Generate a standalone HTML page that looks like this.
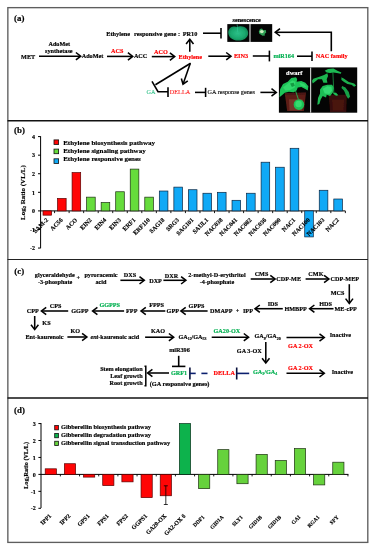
<!DOCTYPE html>
<html><head><meta charset="utf-8"><title>Figure</title>
<style>html,body{margin:0;padding:0;background:#fff;}svg{display:block;}text{font-family:'Liberation Serif', 'DejaVu Serif', serif;white-space:pre;}</style></head><body>
<svg width="374" height="550" viewBox="0 0 374 550">
<rect x="0" y="0" width="374" height="550" fill="#fff"/>
<rect x="7.85" y="7.65" width="359.95" height="534.75" fill="none" stroke="#5e5e5e" stroke-width="1.35"/>
<line x1="7.50" y1="120.75" x2="368.00" y2="120.75" stroke="#111" stroke-width="1.6" />
<line x1="7.50" y1="259.45" x2="368.00" y2="259.45" stroke="#222" stroke-width="1.1" />
<line x1="7.50" y1="398.00" x2="368.00" y2="398.00" stroke="#111" stroke-width="1.7" />
<text x="19.30" y="20.96" font-size="8.9" font-weight="bold" fill="#000" stroke="#000" stroke-width="0.16" text-anchor="middle" >(a)</text>
<text x="28.15" y="58.52" font-size="6.2" font-weight="bold" fill="#000" stroke="#000" stroke-width="0.16" text-anchor="middle" >MET</text>
<line x1="39.00" y1="56.20" x2="80.10" y2="56.20" stroke="#000" stroke-width="1.55" />
<polyline points="75.90,59.90 80.70,56.20 75.90,52.50" fill="none" stroke="#000" stroke-width="1.55" stroke-linejoin="miter"/>
<text x="59.25" y="46.42" font-size="6.2" font-weight="bold" fill="#000" stroke="#000" stroke-width="0.16" text-anchor="middle" >AdoMet</text>
<text x="58.80" y="53.12" font-size="6.2" font-weight="bold" fill="#000" stroke="#000" stroke-width="0.16" text-anchor="middle" >synthetase</text>
<text x="92.50" y="58.12" font-size="6.2" font-weight="bold" fill="#000" stroke="#000" stroke-width="0.16" text-anchor="middle" >AdoMet</text>
<line x1="107.00" y1="56.40" x2="132.10" y2="56.40" stroke="#000" stroke-width="1.55" />
<polyline points="127.90,60.10 132.70,56.40 127.90,52.70" fill="none" stroke="#000" stroke-width="1.55" stroke-linejoin="miter"/>
<text x="117.20" y="53.32" font-size="6.2" font-weight="bold" fill="#f00" stroke="#f00" stroke-width="0.16" text-anchor="middle" >ACS</text>
<text x="140.60" y="58.12" font-size="6.2" font-weight="bold" fill="#000" stroke="#000" stroke-width="0.16" text-anchor="middle" >ACC</text>
<line x1="151.80" y1="56.60" x2="174.10" y2="56.60" stroke="#000" stroke-width="1.55" />
<polyline points="169.90,60.30 174.70,56.60 169.90,52.90" fill="none" stroke="#000" stroke-width="1.55" stroke-linejoin="miter"/>
<text x="160.85" y="53.92" font-size="6.2" font-weight="bold" fill="#f00" stroke="#f00" stroke-width="0.16" text-anchor="middle" >ACO</text>
<text x="190.25" y="58.52" font-size="6.2" font-weight="bold" fill="#f00" stroke="#f00" stroke-width="0.16" text-anchor="middle" >Ethylene</text>
<text x="106.30" y="36.35" font-size="6.3" font-weight="bold" fill="#000" stroke="#000" stroke-width="0.16" text-anchor="start" >Ethylene</text>
<text x="134.00" y="36.37" font-size="6.35" font-weight="bold" fill="#000" stroke="#000" stroke-width="0.16" text-anchor="start" >responsive gene :</text>
<text x="190.05" y="36.45" font-size="6.3" font-weight="bold" fill="#000" stroke="#000" stroke-width="0.16" text-anchor="middle" >PR10</text>
<line x1="189.80" y1="51.70" x2="189.80" y2="39.80" stroke="#000" stroke-width="1.55" />
<polyline points="193.50,44.00 189.80,39.20 186.10,44.00" fill="none" stroke="#000" stroke-width="1.55" stroke-linejoin="miter"/>
<line x1="203.00" y1="33.20" x2="221.00" y2="33.20" stroke="#000" stroke-width="1.55" />
<line x1="221.00" y1="38.40" x2="221.00" y2="28.00" stroke="#000" stroke-width="1.55" />
<text x="246.60" y="22.12" font-size="6.2" font-weight="bold" fill="#000" stroke="#000" stroke-width="0.16" text-anchor="middle" >senescence</text>
<line x1="208.30" y1="56.20" x2="230.40" y2="56.20" stroke="#000" stroke-width="1.55" />
<polyline points="226.20,59.90 231.00,56.20 226.20,52.50" fill="none" stroke="#000" stroke-width="1.55" stroke-linejoin="miter"/>
<text x="241.00" y="58.32" font-size="6.2" font-weight="bold" fill="#f00" stroke="#f00" stroke-width="0.16" text-anchor="middle" >EIN3</text>
<line x1="252.80" y1="56.00" x2="269.40" y2="56.00" stroke="#000" stroke-width="1.55" />
<line x1="269.40" y1="61.40" x2="269.40" y2="50.60" stroke="#000" stroke-width="1.55" />
<text x="283.75" y="58.22" font-size="6.2" font-weight="bold" fill="#00b050" stroke="#00b050" stroke-width="0.16" text-anchor="middle" >miR164</text>
<line x1="297.00" y1="56.20" x2="312.00" y2="56.20" stroke="#000" stroke-width="1.55" />
<line x1="312.00" y1="61.00" x2="312.00" y2="51.40" stroke="#000" stroke-width="1.55" />
<text x="331.75" y="58.42" font-size="6.2" font-weight="bold" fill="#f00" stroke="#f00" stroke-width="0.16" text-anchor="middle" >NAC family</text>
<polyline points="331.3,51.2 331.3,32.3 300,32.3" fill="none" stroke="#000" stroke-width="1.6"/>
<line x1="300.00" y1="32.30" x2="275.80" y2="32.30" stroke="#000" stroke-width="1.55" />
<polyline points="280.00,28.60 275.20,32.30 280.00,36.00" fill="none" stroke="#000" stroke-width="1.55" stroke-linejoin="miter"/>
<line x1="190.60" y1="63.20" x2="155.40" y2="84.70" stroke="#000" stroke-width="1.6" />
<polyline points="152,81.4 158,91.7 168,91.7" fill="none" stroke="#000" stroke-width="1.6"/>
<line x1="168.00" y1="87.20" x2="168.00" y2="97.00" stroke="#000" stroke-width="1.6" />
<line x1="190.30" y1="63.20" x2="183.20" y2="83.63" stroke="#000" stroke-width="1.55" />
<polyline points="181.36,78.55 183.00,84.20 187.79,80.78" fill="none" stroke="#000" stroke-width="1.55" stroke-linejoin="miter"/>
<text x="151.05" y="94.32" font-size="6.2" font-weight="normal" fill="#33c28a" stroke="#33c28a" stroke-width="0.12" text-anchor="middle" >GA</text>
<text x="180.00" y="94.32" font-size="6.2" font-weight="normal" fill="#f22" stroke="#f22" stroke-width="0.12" text-anchor="middle" >DELLA</text>
<line x1="195.00" y1="92.40" x2="205.60" y2="92.40" stroke="#000" stroke-width="1.55" />
<line x1="205.60" y1="97.00" x2="205.60" y2="87.80" stroke="#000" stroke-width="1.55" />
<text x="231.25" y="94.32" font-size="6.2" font-weight="normal" fill="#000" stroke="#000" stroke-width="0.12" text-anchor="middle" >GA response genes</text>
<line x1="260.40" y1="92.40" x2="275.70" y2="92.40" stroke="#000" stroke-width="1.55" />
<polyline points="271.50,96.10 276.30,92.40 271.50,88.70" fill="none" stroke="#000" stroke-width="1.55" stroke-linejoin="miter"/>
<defs><filter id="bl" x="-20%" y="-20%" width="140%" height="140%"><feGaussianBlur stdDeviation="0.45"/></filter><filter id="bl2" x="-20%" y="-20%" width="140%" height="140%"><feGaussianBlur stdDeviation="0.7"/></filter></defs>
<rect x="227.3" y="24.1" width="44.9" height="17.8" fill="#050505"/>
<line x1="250.00" y1="24.10" x2="250.00" y2="41.90" stroke="#c0c0c0" stroke-width="1.3" />
<g filter="url(#bl)">
<defs><radialGradient id="lg1" cx="0.48" cy="0.5" r="0.6"><stop offset="0" stop-color="#2cc088"/><stop offset="0.6" stop-color="#1aa86e"/><stop offset="1" stop-color="#0c7a4c"/></radialGradient></defs>
<path d="M237.2,27.2 C239,25.6 244,25.6 246.5,28.5 C249,31.5 248.6,35.5 246,38 C243.5,40.4 239,41 236,40.4 C232,39.8 228.6,37 228.3,33 C228,29.5 230.5,26.8 233.5,26.6 C235,26.5 236.3,26.6 237.2,27.2 Z" fill="url(#lg1)"/>
<path d="M236.7,24.6 L237.5,24.6 L238.1,32 L237.4,32 Z" fill="#35c898" opacity="0.8"/>
<path d="M258.8,31.5 L260,29 L262,28.4 L263.2,30.2 L265.8,30 L266.2,32.5 L264.6,34 L265,35.6 L262.5,35.8 L260.6,34.6 L259.2,33.6 Z" fill="#2f9f55"/>
<ellipse cx="261.8" cy="31.6" rx="1.9" ry="1.6" fill="#cdeec0"/>
</g>
<rect x="278.9" y="67.4" width="78.3" height="45.3" fill="#040404"/>
<line x1="310.60" y1="67.40" x2="310.60" y2="112.70" stroke="#c4c4c4" stroke-width="1.2" />
<text x="294.25" y="75.38" font-size="6.4" font-weight="bold" fill="#fff" stroke="#fff" stroke-width="0.16" text-anchor="middle" >dwarf</text>
<g filter="url(#bl)">
<polygon points="284.82,93.41 306.00,92.82 303.88,111.06 287.18,111.06" fill="#5c1f17" />
<polygon points="288.94,99.29 302.47,99.29 302.12,110.47 289.53,110.47" fill="#74352a" />
<polygon points="284.82,93.06 306.00,92.59 305.76,94.82 285.18,95.29" fill="#4a1812" />
<polygon points="279.53,97.29 280.12,89.29 283.06,84.00 287.76,81.65 291.29,78.12 296.00,77.18 297.18,79.29 296.59,81.65 301.29,81.06 305.41,82.82 308.35,86.35 307.76,90.47 304.82,88.71 301.29,86.94 297.76,87.53 296.59,90.47 293.65,92.24 288.94,91.65 284.82,92.82 282.47,94.82" fill="#1fc458" />
<polygon points="283.06,87.53 287.76,83.41 292.47,80.47 295.41,81.65 294.82,87.53 290.12,89.88 285.41,90.47" fill="#30d86c" />
<polygon points="290.12,83.41 293.65,82.82 294.82,85.76 291.88,86.94" fill="#129a42" />
<polygon points="299.53,82.82 304.24,84.00 306.82,87.53 304.24,86.94 300.71,85.76" fill="#30d86c" />
<circle cx="298.94" cy="104.59" r="5.3" fill="#1fc257"/>
<circle cx="298.59" cy="104.00" r="3.2" fill="#36dc70"/>
<line x1="295.41" y1="90.47" x2="298.35" y2="99.29" stroke="#25b050" stroke-width="0.9" />
<polygon points="328.72,94.74 346.76,94.74 346.36,112.12 330.05,112.12" fill="#350d0a" />
<polygon points="332.06,99.42 344.09,99.42 343.69,110.79 332.73,110.79" fill="#48130f" />
<polygon points="324.71,70.68 328.05,68.94 333.40,68.41 337.41,70.68 341.42,72.42 340.75,73.75 336.74,72.95 333.40,72.42 330.05,72.95 326.71,72.42" fill="#1db953" />
<polygon points="312.01,80.71 313.34,78.70 319.36,76.70 324.04,75.09 327.38,73.35 328.05,76.03 326.71,79.37 327.38,82.71 323.37,82.71 322.03,79.37 318.02,79.37 314.68,82.04 312.67,83.38" fill="#1db550" />
<polygon points="320.03,89.40 322.70,86.05 327.38,84.72 332.06,84.72 334.06,88.06 332.73,92.74 330.05,96.08 326.71,94.74 326.04,97.42 322.70,96.08 320.70,99.42 319.36,104.10 317.35,104.77 318.02,98.09 320.03,93.41" fill="#1fbc54" />
<polygon points="322.70,88.73 327.38,86.32 331.39,86.72 332.06,90.73 329.39,94.07 324.71,93.41" fill="#34d872" />
<polygon points="341.42,77.36 344.09,78.70 348.77,82.04 354.12,83.38 356.12,85.39 354.12,86.72 351.44,84.72 347.43,84.05 344.09,82.04 341.42,80.04" fill="#1cb04e" />
<polygon points="342.09,86.05 345.43,87.39 348.77,92.07 350.11,96.75 348.10,98.75 346.10,95.41 344.09,90.73 341.42,88.06" fill="#18a046" />
<polygon points="332.73,92.47 336.07,92.74 338.34,95.14 336.07,95.68 333.80,94.34" fill="#1fbf55" />
<line x1="332.86" y1="72.02" x2="333.80" y2="92.74" stroke="#1a9c46" stroke-width="0.8" />
</g>
<text x="19.50" y="133.46" font-size="8.9" font-weight="bold" fill="#000" stroke="#000" stroke-width="0.16" text-anchor="middle" >(b)</text>
<line x1="40.60" y1="136.20" x2="40.60" y2="248.20" stroke="#000" stroke-width="1.0" />
<line x1="38.00" y1="136.58" x2="40.60" y2="136.58" stroke="#000" stroke-width="1.0" />
<text x="35.00" y="138.84" font-size="6.0" font-weight="bold" fill="#000" stroke="#000" stroke-width="0.16" text-anchor="end" >4</text>
<line x1="38.00" y1="155.16" x2="40.60" y2="155.16" stroke="#000" stroke-width="1.0" />
<text x="35.00" y="157.42" font-size="6.0" font-weight="bold" fill="#000" stroke="#000" stroke-width="0.16" text-anchor="end" >3</text>
<line x1="38.00" y1="173.74" x2="40.60" y2="173.74" stroke="#000" stroke-width="1.0" />
<text x="35.00" y="176.00" font-size="6.0" font-weight="bold" fill="#000" stroke="#000" stroke-width="0.16" text-anchor="end" >2</text>
<line x1="38.00" y1="192.32" x2="40.60" y2="192.32" stroke="#000" stroke-width="1.0" />
<text x="35.00" y="194.58" font-size="6.0" font-weight="bold" fill="#000" stroke="#000" stroke-width="0.16" text-anchor="end" >1</text>
<line x1="38.00" y1="210.90" x2="40.60" y2="210.90" stroke="#000" stroke-width="1.0" />
<text x="35.00" y="213.16" font-size="6.0" font-weight="bold" fill="#000" stroke="#000" stroke-width="0.16" text-anchor="end" >0</text>
<line x1="38.00" y1="229.48" x2="40.60" y2="229.48" stroke="#000" stroke-width="1.0" />
<text x="35.00" y="231.74" font-size="6.0" font-weight="bold" fill="#000" stroke="#000" stroke-width="0.16" text-anchor="end" >-1</text>
<line x1="38.00" y1="248.06" x2="40.60" y2="248.06" stroke="#000" stroke-width="1.0" />
<text x="35.00" y="250.32" font-size="6.0" font-weight="bold" fill="#000" stroke="#000" stroke-width="0.16" text-anchor="end" >-2</text>
<line x1="40.60" y1="210.90" x2="345.30" y2="210.90" stroke="#000" stroke-width="1.0" />
<rect x="43.00" y="210.90" width="8.6" height="4.27" fill="#ff0505" stroke="#5a0000" stroke-width="0.7"/>
<line x1="54.57" y1="210.90" x2="54.57" y2="213.10" stroke="#000" stroke-width="0.9" />
<text transform="translate(48.60,220.40) rotate(-45)" x="0" y="0" font-size="6.1" font-weight="bold" stroke="#000" stroke-width="0.16" text-anchor="end">SAM-2</text>
<rect x="57.54" y="198.45" width="8.6" height="12.45" fill="#ff0505" stroke="#5a0000" stroke-width="0.7"/>
<line x1="69.11" y1="210.90" x2="69.11" y2="213.10" stroke="#000" stroke-width="0.9" />
<text transform="translate(63.14,220.40) rotate(-45)" x="0" y="0" font-size="6.1" font-weight="bold" stroke="#000" stroke-width="0.16" text-anchor="end">AC56</text>
<rect x="72.08" y="172.63" width="8.6" height="38.27" fill="#ff0505" stroke="#5a0000" stroke-width="0.7"/>
<line x1="83.65" y1="210.90" x2="83.65" y2="213.10" stroke="#000" stroke-width="0.9" />
<text transform="translate(77.68,220.40) rotate(-45)" x="0" y="0" font-size="6.1" font-weight="bold" stroke="#000" stroke-width="0.16" text-anchor="end">ACO</text>
<rect x="86.62" y="197.15" width="8.6" height="13.75" fill="#66dc3c" stroke="#1c3010" stroke-width="0.7"/>
<line x1="98.19" y1="210.90" x2="98.19" y2="213.10" stroke="#000" stroke-width="0.9" />
<text transform="translate(92.22,220.40) rotate(-45)" x="0" y="0" font-size="6.1" font-weight="bold" stroke="#000" stroke-width="0.16" text-anchor="end">EIN2</text>
<rect x="101.16" y="202.54" width="8.6" height="8.36" fill="#66dc3c" stroke="#1c3010" stroke-width="0.7"/>
<line x1="112.73" y1="210.90" x2="112.73" y2="213.10" stroke="#000" stroke-width="0.9" />
<text transform="translate(106.76,220.40) rotate(-45)" x="0" y="0" font-size="6.1" font-weight="bold" stroke="#000" stroke-width="0.16" text-anchor="end">EIN4</text>
<rect x="115.70" y="191.76" width="8.6" height="19.14" fill="#66dc3c" stroke="#1c3010" stroke-width="0.7"/>
<line x1="127.27" y1="210.90" x2="127.27" y2="213.10" stroke="#000" stroke-width="0.9" />
<text transform="translate(121.30,220.40) rotate(-45)" x="0" y="0" font-size="6.1" font-weight="bold" stroke="#000" stroke-width="0.16" text-anchor="end">EIN3</text>
<rect x="130.24" y="169.10" width="8.6" height="41.80" fill="#66dc3c" stroke="#1c3010" stroke-width="0.7"/>
<line x1="141.81" y1="210.90" x2="141.81" y2="213.10" stroke="#000" stroke-width="0.9" />
<text transform="translate(135.84,220.40) rotate(-45)" x="0" y="0" font-size="6.1" font-weight="bold" stroke="#000" stroke-width="0.16" text-anchor="end">ERF1</text>
<rect x="144.78" y="197.15" width="8.6" height="13.75" fill="#66dc3c" stroke="#1c3010" stroke-width="0.7"/>
<line x1="156.35" y1="210.90" x2="156.35" y2="213.10" stroke="#000" stroke-width="0.9" />
<text transform="translate(150.38,220.40) rotate(-45)" x="0" y="0" font-size="6.1" font-weight="bold" stroke="#000" stroke-width="0.16" text-anchor="end">ERF110</text>
<rect x="159.32" y="191.02" width="8.6" height="19.88" fill="#10a9f6" stroke="#0a2440" stroke-width="0.7"/>
<line x1="170.89" y1="210.90" x2="170.89" y2="213.10" stroke="#000" stroke-width="0.9" />
<text transform="translate(164.92,220.40) rotate(-45)" x="0" y="0" font-size="6.1" font-weight="bold" stroke="#000" stroke-width="0.16" text-anchor="end">SAG18</text>
<rect x="173.86" y="187.12" width="8.6" height="23.78" fill="#10a9f6" stroke="#0a2440" stroke-width="0.7"/>
<line x1="185.43" y1="210.90" x2="185.43" y2="213.10" stroke="#000" stroke-width="0.9" />
<text transform="translate(179.46,220.40) rotate(-45)" x="0" y="0" font-size="6.1" font-weight="bold" stroke="#000" stroke-width="0.16" text-anchor="end">SRG3</text>
<rect x="188.40" y="189.72" width="8.6" height="21.18" fill="#10a9f6" stroke="#0a2440" stroke-width="0.7"/>
<line x1="199.97" y1="210.90" x2="199.97" y2="213.10" stroke="#000" stroke-width="0.9" />
<text transform="translate(194.00,220.40) rotate(-45)" x="0" y="0" font-size="6.1" font-weight="bold" stroke="#000" stroke-width="0.16" text-anchor="end">SAG101</text>
<rect x="202.94" y="193.25" width="8.6" height="17.65" fill="#10a9f6" stroke="#0a2440" stroke-width="0.7"/>
<line x1="214.51" y1="210.90" x2="214.51" y2="213.10" stroke="#000" stroke-width="0.9" />
<text transform="translate(208.54,220.40) rotate(-45)" x="0" y="0" font-size="6.1" font-weight="bold" stroke="#000" stroke-width="0.16" text-anchor="end">SAUL1</text>
<rect x="217.48" y="192.32" width="8.6" height="18.58" fill="#10a9f6" stroke="#0a2440" stroke-width="0.7"/>
<line x1="229.05" y1="210.90" x2="229.05" y2="213.10" stroke="#000" stroke-width="0.9" />
<text transform="translate(223.08,220.40) rotate(-45)" x="0" y="0" font-size="6.1" font-weight="bold" stroke="#000" stroke-width="0.16" text-anchor="end">NAC038</text>
<rect x="232.02" y="200.31" width="8.6" height="10.59" fill="#10a9f6" stroke="#0a2440" stroke-width="0.7"/>
<line x1="243.59" y1="210.90" x2="243.59" y2="213.10" stroke="#000" stroke-width="0.9" />
<text transform="translate(237.62,220.40) rotate(-45)" x="0" y="0" font-size="6.1" font-weight="bold" stroke="#000" stroke-width="0.16" text-anchor="end">NAC041</text>
<rect x="246.56" y="193.25" width="8.6" height="17.65" fill="#10a9f6" stroke="#0a2440" stroke-width="0.7"/>
<line x1="258.13" y1="210.90" x2="258.13" y2="213.10" stroke="#000" stroke-width="0.9" />
<text transform="translate(252.16,220.40) rotate(-45)" x="0" y="0" font-size="6.1" font-weight="bold" stroke="#000" stroke-width="0.16" text-anchor="end">NAC082</text>
<rect x="261.10" y="162.22" width="8.6" height="48.68" fill="#10a9f6" stroke="#0a2440" stroke-width="0.7"/>
<line x1="272.67" y1="210.90" x2="272.67" y2="213.10" stroke="#000" stroke-width="0.9" />
<text transform="translate(266.70,220.40) rotate(-45)" x="0" y="0" font-size="6.1" font-weight="bold" stroke="#000" stroke-width="0.16" text-anchor="end">NAC036</text>
<rect x="275.64" y="167.24" width="8.6" height="43.66" fill="#10a9f6" stroke="#0a2440" stroke-width="0.7"/>
<line x1="287.21" y1="210.90" x2="287.21" y2="213.10" stroke="#000" stroke-width="0.9" />
<text transform="translate(281.24,220.40) rotate(-45)" x="0" y="0" font-size="6.1" font-weight="bold" stroke="#000" stroke-width="0.16" text-anchor="end">NAC090</text>
<rect x="290.18" y="148.29" width="8.6" height="62.61" fill="#10a9f6" stroke="#0a2440" stroke-width="0.7"/>
<line x1="301.75" y1="210.90" x2="301.75" y2="213.10" stroke="#000" stroke-width="0.9" />
<text transform="translate(295.78,220.40) rotate(-45)" x="0" y="0" font-size="6.1" font-weight="bold" stroke="#000" stroke-width="0.16" text-anchor="end">NAC1</text>
<rect x="304.72" y="210.90" width="8.6" height="26.01" fill="#10a9f6" stroke="#0a2440" stroke-width="0.7"/>
<line x1="316.29" y1="210.90" x2="316.29" y2="213.10" stroke="#000" stroke-width="0.9" />
<text transform="translate(310.32,220.40) rotate(-45)" x="0" y="0" font-size="6.1" font-weight="bold" stroke="#000" stroke-width="0.16" text-anchor="end">NAC100</text>
<rect x="319.26" y="190.28" width="8.6" height="20.62" fill="#10a9f6" stroke="#0a2440" stroke-width="0.7"/>
<line x1="330.83" y1="210.90" x2="330.83" y2="213.10" stroke="#000" stroke-width="0.9" />
<text transform="translate(324.86,220.40) rotate(-45)" x="0" y="0" font-size="6.1" font-weight="bold" stroke="#000" stroke-width="0.16" text-anchor="end">NAC103</text>
<rect x="333.80" y="199.01" width="8.6" height="11.89" fill="#10a9f6" stroke="#0a2440" stroke-width="0.7"/>
<line x1="345.37" y1="210.90" x2="345.37" y2="213.10" stroke="#000" stroke-width="0.9" />
<text transform="translate(339.40,220.40) rotate(-45)" x="0" y="0" font-size="6.1" font-weight="bold" stroke="#000" stroke-width="0.16" text-anchor="end">NAC2</text>
<rect x="54.0" y="139.90" width="4.6" height="4.6" fill="#ff0505" stroke="#111" stroke-width="0.8"/>
<text x="63.20" y="144.87" font-size="7.0" font-weight="bold" fill="#000" stroke="#000" stroke-width="0.16" text-anchor="start" >Ethylene biosynthesis pathway</text>
<rect x="54.0" y="149.10" width="4.6" height="4.6" fill="#66dc3c" stroke="#111" stroke-width="0.8"/>
<text x="63.20" y="153.27" font-size="7.0" font-weight="bold" fill="#000" stroke="#000" stroke-width="0.16" text-anchor="start" >Ethylene signaling pathway</text>
<rect x="54.0" y="158.80" width="4.6" height="4.6" fill="#10a9f6" stroke="#111" stroke-width="0.8"/>
<text x="63.20" y="161.47" font-size="7.0" font-weight="bold" fill="#000" stroke="#000" stroke-width="0.16" text-anchor="start" >Ethylene responsive genes</text>
<text transform="translate(25.1,192.6) rotate(-90)" font-size="7" font-weight="bold" stroke="#000" stroke-width="0.16" text-anchor="middle">Log<tspan font-size="4.6" dy="1.2">2</tspan><tspan dy="-1.2"> Ratio (VL/L)</tspan></text>
<text x="19.20" y="273.56" font-size="8.9" font-weight="bold" fill="#000" stroke="#000" stroke-width="0.16" text-anchor="middle" >(c)</text>
<text x="54.75" y="277.32" font-size="6.2" font-weight="bold" fill="#000" stroke="#000" stroke-width="0.16" text-anchor="middle" >glyceraldehyde</text>
<text x="55.10" y="283.52" font-size="6.2" font-weight="bold" fill="#000" stroke="#000" stroke-width="0.16" text-anchor="middle" >-3-phosphate</text>
<text x="78.20" y="280.12" font-size="6.2" font-weight="bold" fill="#000" stroke="#000" stroke-width="0.16" text-anchor="middle" >+</text>
<text x="101.00" y="277.22" font-size="6.2" font-weight="bold" fill="#000" stroke="#000" stroke-width="0.16" text-anchor="middle" >pyroracemic</text>
<text x="100.95" y="283.62" font-size="6.2" font-weight="bold" fill="#000" stroke="#000" stroke-width="0.16" text-anchor="middle" >acid</text>
<text x="129.90" y="277.22" font-size="6.2" font-weight="bold" fill="#000" stroke="#000" stroke-width="0.16" text-anchor="middle" >DXS</text>
<line x1="120.40" y1="280.30" x2="143.70" y2="280.30" stroke="#000" stroke-width="1.55" />
<polyline points="139.50,284.00 144.30,280.30 139.50,276.60" fill="none" stroke="#000" stroke-width="1.55" stroke-linejoin="miter"/>
<text x="155.55" y="282.62" font-size="6.2" font-weight="bold" fill="#000" stroke="#000" stroke-width="0.16" text-anchor="middle" >DXP</text>
<text x="171.45" y="277.52" font-size="6.2" font-weight="bold" fill="#000" stroke="#000" stroke-width="0.16" text-anchor="middle" >DXR</text>
<line x1="163.40" y1="280.30" x2="185.30" y2="280.30" stroke="#000" stroke-width="1.55" />
<polyline points="181.10,284.00 185.90,280.30 181.10,276.60" fill="none" stroke="#000" stroke-width="1.55" stroke-linejoin="miter"/>
<text x="216.95" y="276.82" font-size="6.2" font-weight="bold" fill="#000" stroke="#000" stroke-width="0.16" text-anchor="middle" >2-methyl-D-erythritol</text>
<text x="217.00" y="283.82" font-size="6.2" font-weight="bold" fill="#000" stroke="#000" stroke-width="0.16" text-anchor="middle" >-4-phosphate</text>
<text x="261.50" y="275.82" font-size="6.2" font-weight="bold" fill="#000" stroke="#000" stroke-width="0.16" text-anchor="middle" >CMS</text>
<line x1="250.70" y1="279.00" x2="274.50" y2="279.00" stroke="#000" stroke-width="1.55" />
<polyline points="270.30,282.70 275.10,279.00 270.30,275.30" fill="none" stroke="#000" stroke-width="1.55" stroke-linejoin="miter"/>
<text x="288.70" y="281.12" font-size="6.2" font-weight="bold" fill="#000" stroke="#000" stroke-width="0.16" text-anchor="middle" >CDP-ME</text>
<text x="315.90" y="276.42" font-size="6.2" font-weight="bold" fill="#000" stroke="#000" stroke-width="0.16" text-anchor="middle" >CMK</text>
<line x1="305.60" y1="279.00" x2="328.30" y2="279.00" stroke="#000" stroke-width="1.55" />
<polyline points="324.10,282.70 328.90,279.00 324.10,275.30" fill="none" stroke="#000" stroke-width="1.55" stroke-linejoin="miter"/>
<text x="344.80" y="281.12" font-size="6.2" font-weight="bold" fill="#000" stroke="#000" stroke-width="0.16" text-anchor="middle" >CDP-MEP</text>
<text x="337.65" y="295.42" font-size="6.2" font-weight="bold" fill="#000" stroke="#000" stroke-width="0.16" text-anchor="middle" >MCS</text>
<line x1="349.30" y1="284.20" x2="349.30" y2="302.80" stroke="#000" stroke-width="1.55" />
<polyline points="345.60,298.60 349.30,303.40 353.00,298.60" fill="none" stroke="#000" stroke-width="1.55" stroke-linejoin="miter"/>
<text x="345.70" y="311.22" font-size="6.2" font-weight="bold" fill="#000" stroke="#000" stroke-width="0.16" text-anchor="middle" >ME-cPP</text>
<text x="325.60" y="306.22" font-size="6.2" font-weight="bold" fill="#000" stroke="#000" stroke-width="0.16" text-anchor="middle" >HDS</text>
<line x1="333.50" y1="308.70" x2="310.20" y2="308.70" stroke="#000" stroke-width="1.55" />
<polyline points="314.40,305.00 309.60,308.70 314.40,312.40" fill="none" stroke="#000" stroke-width="1.55" stroke-linejoin="miter"/>
<text x="295.55" y="311.22" font-size="6.2" font-weight="bold" fill="#000" stroke="#000" stroke-width="0.16" text-anchor="middle" >HMBPP</text>
<text x="272.80" y="305.82" font-size="6.2" font-weight="bold" fill="#000" stroke="#000" stroke-width="0.16" text-anchor="middle" >IDS</text>
<line x1="282.80" y1="308.70" x2="255.60" y2="308.70" stroke="#000" stroke-width="1.55" />
<polyline points="259.80,305.00 255.00,308.70 259.80,312.40" fill="none" stroke="#000" stroke-width="1.55" stroke-linejoin="miter"/>
<text x="247.95" y="312.92" font-size="6.2" font-weight="bold" fill="#000" stroke="#000" stroke-width="0.16" text-anchor="middle" >IPP</text>
<text x="237.60" y="312.92" font-size="6.2" font-weight="bold" fill="#000" stroke="#000" stroke-width="0.16" text-anchor="middle" >+</text>
<text x="221.25" y="313.12" font-size="6.2" font-weight="bold" fill="#000" stroke="#000" stroke-width="0.16" text-anchor="middle" >DMAPP</text>
<text x="196.50" y="307.52" font-size="6.2" font-weight="bold" fill="#000" stroke="#000" stroke-width="0.16" text-anchor="middle" >GPPS</text>
<line x1="207.60" y1="311.00" x2="181.50" y2="311.00" stroke="#000" stroke-width="1.55" />
<polyline points="185.70,307.30 180.90,311.00 185.70,314.70" fill="none" stroke="#000" stroke-width="1.55" stroke-linejoin="miter"/>
<text x="172.75" y="313.12" font-size="6.2" font-weight="bold" fill="#000" stroke="#000" stroke-width="0.16" text-anchor="middle" >GPP</text>
<text x="156.60" y="307.22" font-size="6.2" font-weight="bold" fill="#000" stroke="#000" stroke-width="0.16" text-anchor="middle" >FPPS</text>
<line x1="165.30" y1="311.00" x2="141.60" y2="311.00" stroke="#000" stroke-width="1.55" />
<polyline points="145.80,307.30 141.00,311.00 145.80,314.70" fill="none" stroke="#000" stroke-width="1.55" stroke-linejoin="miter"/>
<text x="131.75" y="313.22" font-size="6.2" font-weight="bold" fill="#000" stroke="#000" stroke-width="0.16" text-anchor="middle" >FPP</text>
<text x="109.70" y="307.22" font-size="6.2" font-weight="bold" fill="#00b050" stroke="#00b050" stroke-width="0.16" text-anchor="middle" >GGPPS</text>
<line x1="124.10" y1="311.00" x2="93.20" y2="311.00" stroke="#000" stroke-width="1.55" />
<polyline points="97.40,307.30 92.60,311.00 97.40,314.70" fill="none" stroke="#000" stroke-width="1.55" stroke-linejoin="miter"/>
<text x="79.90" y="313.32" font-size="6.2" font-weight="bold" fill="#000" stroke="#000" stroke-width="0.16" text-anchor="middle" >GGPP</text>
<text x="55.60" y="307.52" font-size="6.2" font-weight="bold" fill="#000" stroke="#000" stroke-width="0.16" text-anchor="middle" >CPS</text>
<line x1="68.20" y1="311.00" x2="42.00" y2="311.00" stroke="#000" stroke-width="1.55" />
<polyline points="46.20,307.30 41.40,311.00 46.20,314.70" fill="none" stroke="#000" stroke-width="1.55" stroke-linejoin="miter"/>
<text x="32.70" y="313.32" font-size="6.2" font-weight="bold" fill="#000" stroke="#000" stroke-width="0.16" text-anchor="middle" >CPP</text>
<line x1="34.70" y1="316.00" x2="34.70" y2="329.00" stroke="#000" stroke-width="1.55" />
<polyline points="31.00,324.80 34.70,329.60 38.40,324.80" fill="none" stroke="#000" stroke-width="1.55" stroke-linejoin="miter"/>
<text x="46.50" y="325.12" font-size="6.2" font-weight="bold" fill="#000" stroke="#000" stroke-width="0.16" text-anchor="middle" >KS</text>
<text x="44.50" y="338.52" font-size="6.2" font-weight="bold" fill="#000" stroke="#000" stroke-width="0.16" text-anchor="middle" >Ent-kaurenoic</text>
<text x="75.25" y="333.42" font-size="6.2" font-weight="bold" fill="#000" stroke="#000" stroke-width="0.16" text-anchor="middle" >KO</text>
<line x1="67.40" y1="337.00" x2="86.30" y2="337.00" stroke="#000" stroke-width="1.55" />
<polyline points="82.10,340.70 86.90,337.00 82.10,333.30" fill="none" stroke="#000" stroke-width="1.55" stroke-linejoin="miter"/>
<text x="114.85" y="338.52" font-size="6.2" font-weight="bold" fill="#000" stroke="#000" stroke-width="0.16" text-anchor="middle" ><tspan font-style="italic">ent</tspan>-kaurenoic acid</text>
<text x="158.10" y="333.42" font-size="6.2" font-weight="bold" fill="#000" stroke="#000" stroke-width="0.16" text-anchor="middle" >KAO</text>
<line x1="145.10" y1="337.20" x2="173.10" y2="337.20" stroke="#000" stroke-width="1.55" />
<polyline points="168.90,340.90 173.70,337.20 168.90,333.50" fill="none" stroke="#000" stroke-width="1.55" stroke-linejoin="miter"/>
<text x="192.45" y="338.52" font-size="6.2" font-weight="bold" fill="#000" stroke="#000" stroke-width="0.16" text-anchor="middle" >GA<tspan font-size="3.9" dy="1.1">12</tspan><tspan dy="-1.1">/GA</tspan><tspan font-size="3.9" dy="1.1">53</tspan><tspan dy="-1.1"></tspan></text>
<text x="226.95" y="333.32" font-size="6.2" font-weight="bold" fill="#00b050" stroke="#00b050" stroke-width="0.16" text-anchor="middle" >GA20-OX</text>
<line x1="211.70" y1="337.20" x2="248.00" y2="337.20" stroke="#000" stroke-width="1.55" />
<polyline points="243.80,340.90 248.60,337.20 243.80,333.50" fill="none" stroke="#000" stroke-width="1.55" stroke-linejoin="miter"/>
<text x="267.60" y="338.42" font-size="6.2" font-weight="bold" fill="#000" stroke="#000" stroke-width="0.16" text-anchor="middle" >GA<tspan font-size="3.9" dy="1.1">9</tspan><tspan dy="-1.1">/GA</tspan><tspan font-size="3.9" dy="1.1">20</tspan><tspan dy="-1.1"></tspan></text>
<line x1="286.50" y1="337.50" x2="323.70" y2="337.50" stroke="#000" stroke-width="1.55" />
<polyline points="319.50,341.20 324.30,337.50 319.50,333.80" fill="none" stroke="#000" stroke-width="1.55" stroke-linejoin="miter"/>
<text x="340.35" y="337.22" font-size="6.2" font-weight="bold" fill="#000" stroke="#000" stroke-width="0.16" text-anchor="middle" >Inactive</text>
<text x="300.55" y="347.62" font-size="6.2" font-weight="bold" fill="#f00" stroke="#f00" stroke-width="0.16" text-anchor="middle" >GA 2-OX</text>
<text x="249.30" y="353.42" font-size="6.2" font-weight="bold" fill="#000" stroke="#000" stroke-width="0.16" text-anchor="middle" >GA 3-OX</text>
<line x1="265.80" y1="341.90" x2="265.80" y2="362.40" stroke="#000" stroke-width="1.55" />
<polyline points="262.10,358.20 265.80,363.00 269.50,358.20" fill="none" stroke="#000" stroke-width="1.55" stroke-linejoin="miter"/>
<text x="265.10" y="374.32" font-size="6.2" font-weight="bold" fill="#00b050" stroke="#00b050" stroke-width="0.16" text-anchor="middle" >GA<tspan font-size="3.9" dy="1.1">3</tspan><tspan dy="-1.1">/GA</tspan><tspan font-size="3.9" dy="1.1">4</tspan><tspan dy="-1.1"></tspan></text>
<text x="300.55" y="370.32" font-size="6.2" font-weight="bold" fill="#f00" stroke="#f00" stroke-width="0.16" text-anchor="middle" >GA 2-OX</text>
<line x1="286.50" y1="373.30" x2="323.70" y2="373.30" stroke="#000" stroke-width="1.55" />
<polyline points="319.50,377.00 324.30,373.30 319.50,369.60" fill="none" stroke="#000" stroke-width="1.55" stroke-linejoin="miter"/>
<text x="342.35" y="373.52" font-size="6.2" font-weight="bold" fill="#000" stroke="#000" stroke-width="0.16" text-anchor="middle" >Inactive</text>
<text x="179.45" y="351.92" font-size="6.2" font-weight="bold" fill="#000" stroke="#000" stroke-width="0.16" text-anchor="middle" >miR396</text>
<line x1="178.70" y1="355.80" x2="178.70" y2="366.40" stroke="#000" stroke-width="1.6" />
<line x1="172.00" y1="366.40" x2="185.40" y2="366.40" stroke="#000" stroke-width="1.6" />
<text x="179.10" y="375.32" font-size="6.2" font-weight="bold" fill="#00b050" stroke="#00b050" stroke-width="0.16" text-anchor="middle" >GRF1</text>
<line x1="189.90" y1="367.50" x2="189.90" y2="379.50" stroke="#08103c" stroke-width="1.6" />
<line x1="189.90" y1="373.40" x2="195.70" y2="373.40" stroke="#0b1f6e" stroke-width="1.6" />
<line x1="201.40" y1="373.40" x2="207.50" y2="373.40" stroke="#0b1f6e" stroke-width="1.6" />
<text x="224.20" y="375.22" font-size="6.2" font-weight="bold" fill="#f00" stroke="#f00" stroke-width="0.16" text-anchor="middle" >DELLA</text>
<line x1="236.70" y1="367.50" x2="236.70" y2="379.50" stroke="#08103c" stroke-width="1.6" />
<line x1="236.70" y1="373.40" x2="249.20" y2="373.40" stroke="#0b1f6e" stroke-width="1.6" />
<line x1="169.00" y1="373.00" x2="148.20" y2="373.00" stroke="#000" stroke-width="1.55" />
<polyline points="152.40,369.30 147.60,373.00 152.40,376.70" fill="none" stroke="#000" stroke-width="1.55" stroke-linejoin="miter"/>
<polyline points="144.5,366.2 145.8,366.2 145.8,385.8 144.5,385.8" fill="none" stroke="#000" stroke-width="1.5"/>
<text x="142.60" y="370.82" font-size="6.2" font-weight="bold" fill="#000" stroke="#000" stroke-width="0.16" text-anchor="end" >Stem elongation</text>
<text x="142.60" y="377.92" font-size="6.2" font-weight="bold" fill="#000" stroke="#000" stroke-width="0.16" text-anchor="end" >Leaf growth</text>
<text x="142.60" y="385.12" font-size="6.2" font-weight="bold" fill="#000" stroke="#000" stroke-width="0.16" text-anchor="end" >Root growth</text>
<text x="179.60" y="386.17" font-size="6.35" font-weight="bold" fill="#000" stroke="#000" stroke-width="0.16" text-anchor="middle" >(GA responsive genes)</text>
<text x="19.50" y="413.06" font-size="8.9" font-weight="bold" fill="#000" stroke="#000" stroke-width="0.16" text-anchor="middle" >(d)</text>
<line x1="41.00" y1="423.00" x2="41.00" y2="508.00" stroke="#000" stroke-width="1.0" />
<line x1="38.40" y1="423.55" x2="41.00" y2="423.55" stroke="#000" stroke-width="1.0" />
<text x="35.80" y="425.71" font-size="6.0" font-weight="bold" fill="#000" stroke="#000" stroke-width="0.16" text-anchor="end" >3</text>
<line x1="38.40" y1="440.50" x2="41.00" y2="440.50" stroke="#000" stroke-width="1.0" />
<text x="35.80" y="442.66" font-size="6.0" font-weight="bold" fill="#000" stroke="#000" stroke-width="0.16" text-anchor="end" >2</text>
<line x1="38.40" y1="457.45" x2="41.00" y2="457.45" stroke="#000" stroke-width="1.0" />
<text x="35.80" y="459.61" font-size="6.0" font-weight="bold" fill="#000" stroke="#000" stroke-width="0.16" text-anchor="end" >1</text>
<line x1="38.40" y1="474.40" x2="41.00" y2="474.40" stroke="#000" stroke-width="1.0" />
<text x="35.80" y="476.56" font-size="6.0" font-weight="bold" fill="#000" stroke="#000" stroke-width="0.16" text-anchor="end" >0</text>
<line x1="38.40" y1="491.35" x2="41.00" y2="491.35" stroke="#000" stroke-width="1.0" />
<text x="35.80" y="493.51" font-size="6.0" font-weight="bold" fill="#000" stroke="#000" stroke-width="0.16" text-anchor="end" >-1</text>
<line x1="38.40" y1="508.30" x2="41.00" y2="508.30" stroke="#000" stroke-width="1.0" />
<text x="35.80" y="510.46" font-size="6.0" font-weight="bold" fill="#000" stroke="#000" stroke-width="0.16" text-anchor="end" >-2</text>
<line x1="41.00" y1="474.40" x2="348.40" y2="474.40" stroke="#000" stroke-width="1.0" />
<rect x="45.20" y="468.81" width="11.2" height="5.59" fill="#ff0505" stroke="#5a0000" stroke-width="0.7"/>
<line x1="60.38" y1="474.40" x2="60.38" y2="476.40" stroke="#000" stroke-width="0.9" />
<text transform="translate(51.70,516.40) rotate(-45)" x="0" y="0" font-size="6.0" font-weight="bold" stroke="#000" stroke-width="0.16" text-anchor="end">IPP1</text>
<rect x="64.37" y="463.72" width="11.2" height="10.68" fill="#ff0505" stroke="#5a0000" stroke-width="0.7"/>
<line x1="79.56" y1="474.40" x2="79.56" y2="476.40" stroke="#000" stroke-width="0.9" />
<text transform="translate(70.87,516.40) rotate(-45)" x="0" y="0" font-size="6.0" font-weight="bold" stroke="#000" stroke-width="0.16" text-anchor="end">IPP2</text>
<rect x="83.54" y="474.40" width="11.2" height="2.71" fill="#ff0505" stroke="#5a0000" stroke-width="0.7"/>
<line x1="98.72" y1="474.40" x2="98.72" y2="476.40" stroke="#000" stroke-width="0.9" />
<text transform="translate(90.04,516.40) rotate(-45)" x="0" y="0" font-size="6.0" font-weight="bold" stroke="#000" stroke-width="0.16" text-anchor="end">GPS1</text>
<rect x="102.71" y="474.40" width="11.2" height="11.19" fill="#ff0505" stroke="#5a0000" stroke-width="0.7"/>
<line x1="117.90" y1="474.40" x2="117.90" y2="476.40" stroke="#000" stroke-width="0.9" />
<text transform="translate(109.21,516.40) rotate(-45)" x="0" y="0" font-size="6.0" font-weight="bold" stroke="#000" stroke-width="0.16" text-anchor="end">FPS1</text>
<rect x="121.88" y="474.40" width="11.2" height="7.46" fill="#ff0505" stroke="#5a0000" stroke-width="0.7"/>
<line x1="137.06" y1="474.40" x2="137.06" y2="476.40" stroke="#000" stroke-width="0.9" />
<text transform="translate(128.38,516.40) rotate(-45)" x="0" y="0" font-size="6.0" font-weight="bold" stroke="#000" stroke-width="0.16" text-anchor="end">FPS2</text>
<rect x="141.05" y="474.40" width="11.2" height="23.22" fill="#ff0505" stroke="#5a0000" stroke-width="0.7"/>
<line x1="156.24" y1="474.40" x2="156.24" y2="476.40" stroke="#000" stroke-width="0.9" />
<text transform="translate(147.55,516.40) rotate(-45)" x="0" y="0" font-size="6.0" font-weight="bold" stroke="#000" stroke-width="0.16" text-anchor="end">GGPS1</text>
<rect x="160.22" y="474.40" width="11.2" height="21.36" fill="#ff0505" stroke="#5a0000" stroke-width="0.7"/>
<line x1="175.41" y1="474.40" x2="175.41" y2="476.40" stroke="#000" stroke-width="0.9" />
<text transform="translate(166.72,516.40) rotate(-45)" x="0" y="0" font-size="6.0" font-weight="bold" stroke="#000" stroke-width="0.16" text-anchor="end">GA20-OX</text>
<rect x="179.39" y="423.55" width="11.2" height="50.85" fill="#0db24c" stroke="#06301a" stroke-width="0.7"/>
<line x1="194.58" y1="474.40" x2="194.58" y2="476.40" stroke="#000" stroke-width="0.9" />
<text transform="translate(185.89,516.40) rotate(-45)" x="0" y="0" font-size="6.0" font-weight="bold" stroke="#000" stroke-width="0.16" text-anchor="end">GA2-OX 6</text>
<rect x="198.56" y="474.40" width="11.2" height="14.24" fill="#66d23c" stroke="#1c3010" stroke-width="0.7"/>
<line x1="213.75" y1="474.40" x2="213.75" y2="476.40" stroke="#000" stroke-width="0.9" />
<text transform="translate(204.86,517.60) rotate(-45)" x="0" y="0" font-size="5.4" font-weight="bold" stroke="#000" stroke-width="0.16" text-anchor="end">DDF1</text>
<rect x="217.73" y="449.65" width="11.2" height="24.75" fill="#66d23c" stroke="#1c3010" stroke-width="0.7"/>
<line x1="232.92" y1="474.40" x2="232.92" y2="476.40" stroke="#000" stroke-width="0.9" />
<text transform="translate(224.03,517.60) rotate(-45)" x="0" y="0" font-size="5.4" font-weight="bold" stroke="#000" stroke-width="0.16" text-anchor="end">GID1A</text>
<rect x="236.90" y="474.40" width="11.2" height="9.32" fill="#66d23c" stroke="#1c3010" stroke-width="0.7"/>
<line x1="252.09" y1="474.40" x2="252.09" y2="476.40" stroke="#000" stroke-width="0.9" />
<text transform="translate(243.20,517.60) rotate(-45)" x="0" y="0" font-size="5.4" font-weight="bold" stroke="#000" stroke-width="0.16" text-anchor="end">SLY1</text>
<rect x="256.07" y="454.40" width="11.2" height="20.00" fill="#66d23c" stroke="#1c3010" stroke-width="0.7"/>
<line x1="271.25" y1="474.40" x2="271.25" y2="476.40" stroke="#000" stroke-width="0.9" />
<text transform="translate(262.37,517.60) rotate(-45)" x="0" y="0" font-size="5.4" font-weight="bold" stroke="#000" stroke-width="0.16" text-anchor="end">GID1B</text>
<rect x="275.24" y="460.50" width="11.2" height="13.90" fill="#66d23c" stroke="#1c3010" stroke-width="0.7"/>
<line x1="290.43" y1="474.40" x2="290.43" y2="476.40" stroke="#000" stroke-width="0.9" />
<text transform="translate(281.54,517.60) rotate(-45)" x="0" y="0" font-size="5.4" font-weight="bold" stroke="#000" stroke-width="0.16" text-anchor="end">GID1B</text>
<rect x="294.41" y="448.64" width="11.2" height="25.76" fill="#66d23c" stroke="#1c3010" stroke-width="0.7"/>
<line x1="309.60" y1="474.40" x2="309.60" y2="476.40" stroke="#000" stroke-width="0.9" />
<text transform="translate(300.71,517.60) rotate(-45)" x="0" y="0" font-size="5.4" font-weight="bold" stroke="#000" stroke-width="0.16" text-anchor="end">GAI</text>
<rect x="313.58" y="474.40" width="11.2" height="10.51" fill="#66d23c" stroke="#1c3010" stroke-width="0.7"/>
<line x1="328.76" y1="474.40" x2="328.76" y2="476.40" stroke="#000" stroke-width="0.9" />
<text transform="translate(319.88,517.60) rotate(-45)" x="0" y="0" font-size="5.4" font-weight="bold" stroke="#000" stroke-width="0.16" text-anchor="end">RGA1</text>
<rect x="332.75" y="462.20" width="11.2" height="12.20" fill="#66d23c" stroke="#1c3010" stroke-width="0.7"/>
<line x1="347.94" y1="474.40" x2="347.94" y2="476.40" stroke="#000" stroke-width="0.9" />
<text transform="translate(339.05,517.60) rotate(-45)" x="0" y="0" font-size="5.4" font-weight="bold" stroke="#000" stroke-width="0.16" text-anchor="end">SPY</text>
<line x1="165.82" y1="485.80" x2="165.82" y2="504.50" stroke="#000" stroke-width="0.8" />
<line x1="163.82" y1="485.80" x2="167.82" y2="485.80" stroke="#000" stroke-width="0.8" />
<line x1="163.82" y1="504.50" x2="167.82" y2="504.50" stroke="#000" stroke-width="0.8" />
<rect x="54.7" y="425.55" width="3.7" height="4.3" fill="#ff0505" stroke="#111" stroke-width="0.8"/>
<text x="61.10" y="429.46" font-size="6.33" font-weight="bold" fill="#000" stroke="#000" stroke-width="0.16" text-anchor="start" >Gibberellin biosynthesis pathway</text>
<rect x="54.7" y="433.45" width="3.7" height="4.3" fill="#0db24c" stroke="#111" stroke-width="0.8"/>
<text x="61.10" y="437.36" font-size="6.33" font-weight="bold" fill="#000" stroke="#000" stroke-width="0.16" text-anchor="start" >Gibberellin degradation pathway</text>
<rect x="54.7" y="441.25" width="3.7" height="4.3" fill="#66d23c" stroke="#111" stroke-width="0.8"/>
<text x="61.10" y="445.16" font-size="6.33" font-weight="bold" fill="#000" stroke="#000" stroke-width="0.16" text-anchor="start" >Gibberellin signal transduction pathway</text>
<text transform="translate(27.5,465.4) rotate(-90)" font-size="6.2" font-weight="bold" stroke="#000" stroke-width="0.16" text-anchor="middle">Log<tspan font-size="4" dy="1.1">2</tspan><tspan dy="-1.1">Ratio (VL/L)</tspan></text>
</svg></body></html>
